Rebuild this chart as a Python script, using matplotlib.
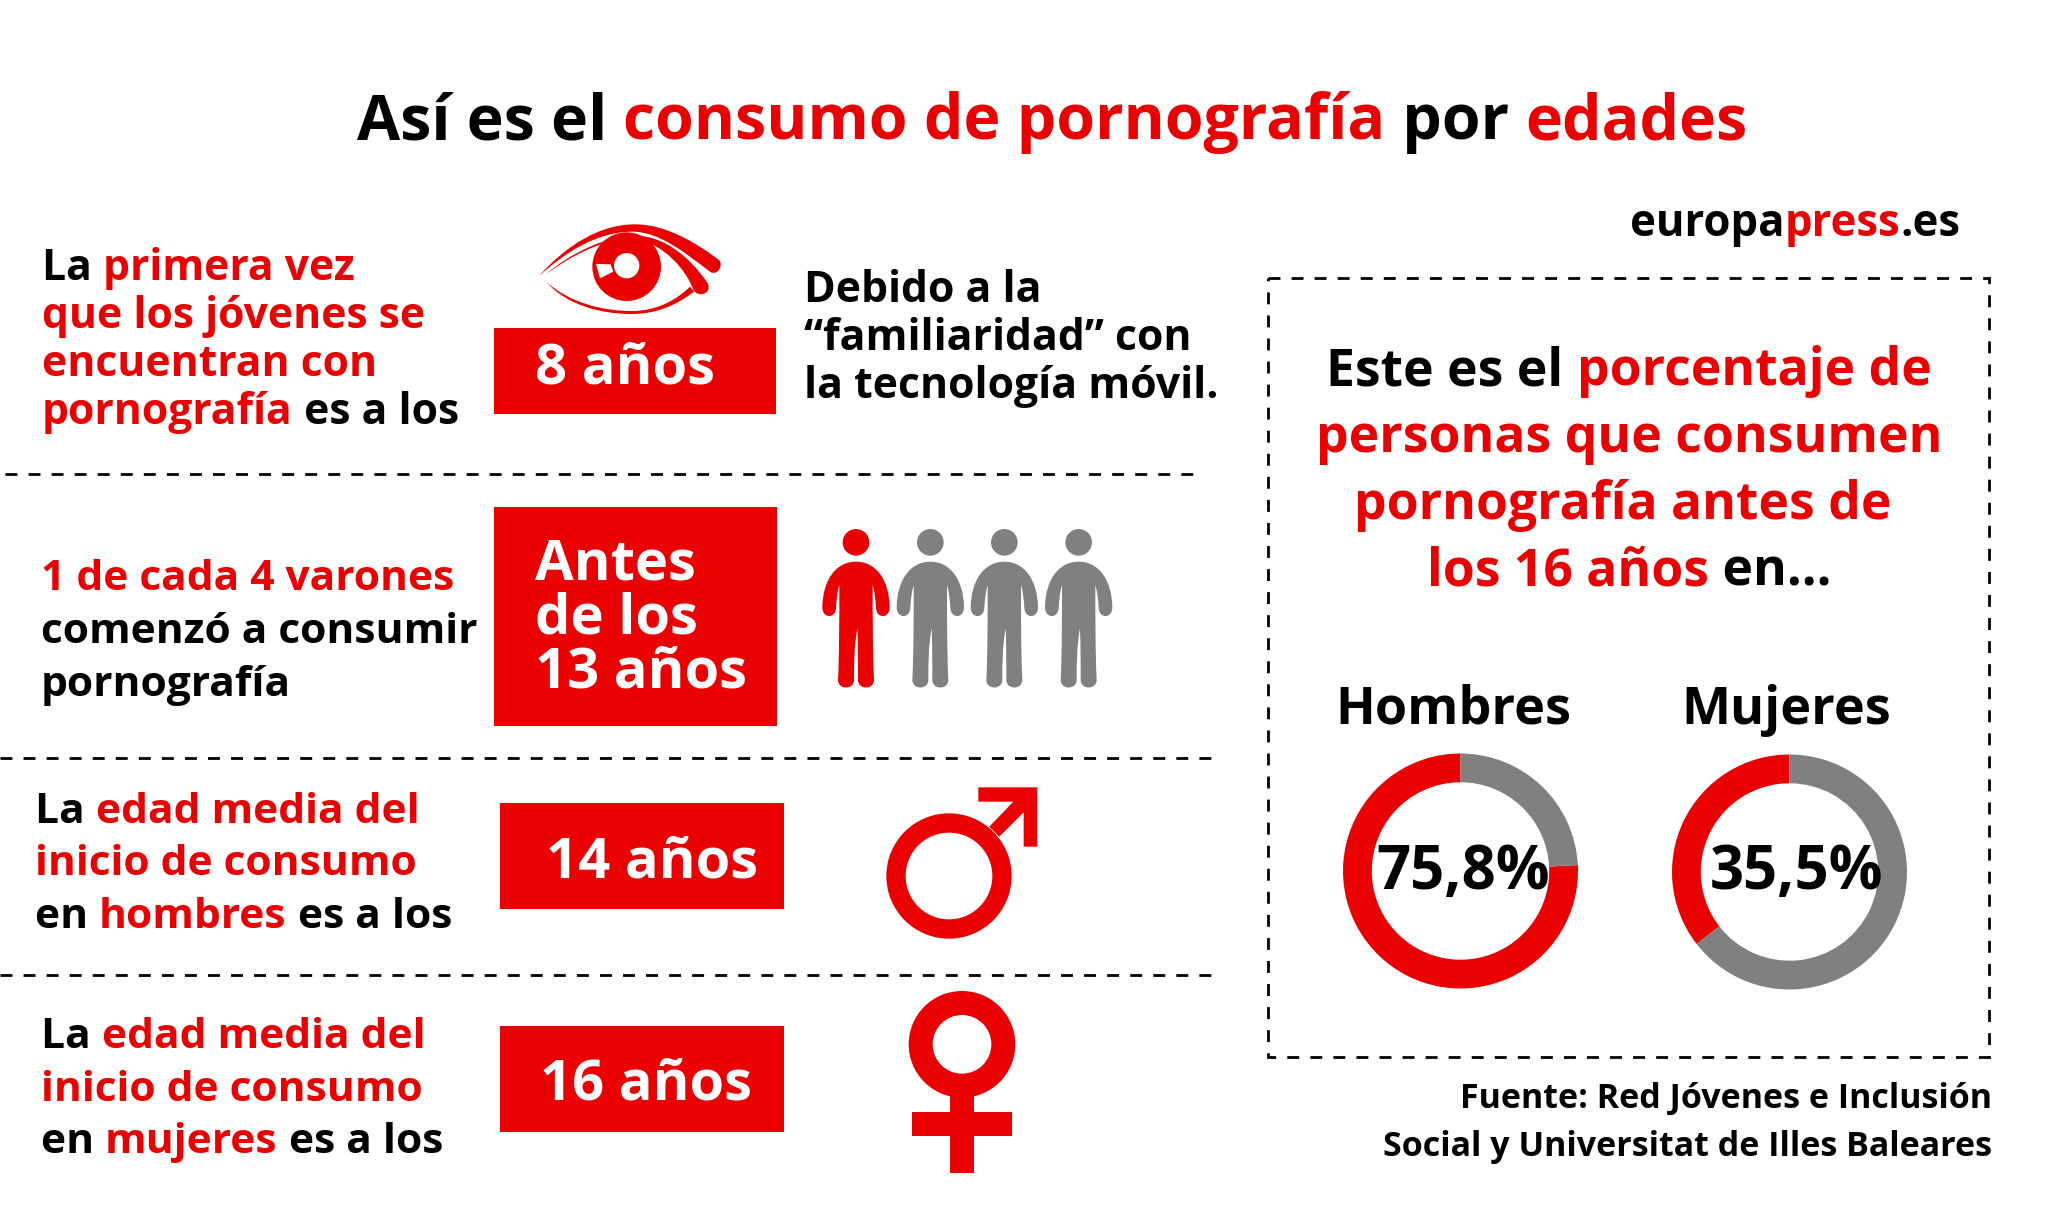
import matplotlib
matplotlib.use('Agg')
import matplotlib.pyplot as plt
from matplotlib.patches import Rectangle, Circle, Annulus, Polygon, PathPatch
from matplotlib.path import Path

# === Data === #
RED = '#EA0000'
GREY = '#808080'
BLACK = '#000000'

title_parts = [('Así es el ', BLACK), ('consumo de pornografía', RED), (' por ', BLACK), ('edades', RED)]

row1_lines = [[('La ', BLACK), ('primera vez', RED)],
              [('que los jóvenes se', RED)],
              [('encuentran con', RED)],
              [('pornografía', RED), (' es a los', BLACK)]]
row1_note = ['Debido a la', '“familiaridad” con', 'la tecnología móvil.']
row2_lines = [[('1 de cada 4 varones', RED)],
              [('comenzó a consumir', BLACK)],
              [('pornografía', BLACK)]]
row3_lines = [[('La ', BLACK), ('edad media del', RED)],
              [('inicio de consumo', RED)],
              [('en ', BLACK), ('hombres', RED), (' es a los', BLACK)]]
row4_lines = [[('La ', BLACK), ('edad media del', RED)],
              [('inicio de consumo', RED)],
              [('en ', BLACK), ('mujeres', RED), (' es a los', BLACK)]]

brand_parts = [('europa', BLACK), ('press', RED), ('.es', BLACK)]
panel_lines = [[('Este es el ', BLACK), ('porcentaje de', RED)],
               [('personas que consumen', RED)],
               [('pornografía antes de', RED)],
               [('los 16 años', RED), (' en...', BLACK)]]
source_lines = ['Fuente: Red Jóvenes e Inclusión',
                'Social y Universitat de Illes Baleares']

donut_names = ['Hombres', 'Mujeres']
donut_values = [75.8, 35.5]
donut_labels = ['75,8%', '35,5%']

plt.rcParams['font.family'] = ['Open Sans', 'DejaVu Sans']
plt.rcParams['font.weight'] = 'bold'

fig = plt.figure(figsize=(20.48, 12.24), dpi=100)
ax = fig.add_axes([0, 0, 1, 1])
ax.set_xlim(0, 2048)
ax.set_ylim(1224, 0)
ax.axis('off')
renderer = fig.canvas.get_renderer()


def text_width(s, size):
    # the bar keeps trailing spaces in the measure
    t = ax.text(0, 0, s + '|', fontsize=size)
    w = t.get_window_extent(renderer).width
    t.set_text('|')
    w -= t.get_window_extent(renderer).width
    t.remove()
    return w


def rich_line(x, y, parts, size, align='left'):
    full = ''.join(p[0] for p in parts)
    if align == 'center':
        x -= text_width(full, size) / 2
    prefix = ''
    for s, color in parts:
        ax.text(x + text_width(prefix, size), y, s, color=color, fontsize=size, va='baseline')
        prefix += s


def text_block(x, baselines, lines, size):
    for y, parts in zip(baselines, lines):
        rich_line(x, y, parts, size)


def red_box(x0, y0, x1, y1):
    ax.add_patch(Rectangle((x0, y0), x1 - x0, y1 - y0, fc=RED, ec='none'))


def curve_patch(points, x0, y0, scale, color):
    # points: start then cubic segments, in crop coordinates
    verts = [(x0 + u / scale, y0 + v / scale) for u, v in points]
    codes = [Path.MOVETO] + [Path.CURVE4] * (len(verts) - 1)
    ax.add_patch(PathPatch(Path(verts, codes), fc=color, ec='none'))


def draw_eye():
    x0, y0, k = 520, 215, 3
    # upper brow
    curve_patch([(58, 182), (140, 90), (240, 28), (345, 28),
                 (440, 28), (530, 85), (597, 135),
                 (612, 150), (592, 185), (570, 170),
                 (490, 110), (420, 52), (340, 50),
                 (230, 50), (140, 110), (58, 182)], x0, y0, k, RED)
    # lid
    curve_patch([(78, 178), (150, 115), (260, 62), (345, 62),
                 (430, 62), (510, 125), (563, 205),
                 (578, 235), (535, 250), (520, 225),
                 (500, 165), (430, 85), (345, 72),
                 (250, 68), (150, 125), (78, 178)], x0, y0, k, RED)
    # lower lid
    curve_patch([(78, 200), (150, 265), (250, 288), (335, 288),
                 (410, 288), (470, 255), (510, 215),
                 (515, 220), (518, 225), (522, 230),
                 (470, 270), (410, 297), (335, 297),
                 (240, 297), (140, 270), (78, 200)], x0, y0, k, RED)
    ax.add_patch(Circle((x0 + 320 / k, y0 + 155 / k), 103 / k, fc=RED, ec='none'))
    ax.add_patch(Circle((x0 + 320 / k, y0 + 152 / k), 38 / k, fc='white', ec='none'))
    notch = [(228, 147), (272, 148), (280, 170), (240, 190)]
    ax.add_patch(Polygon([(x0 + u / k, y0 + v / k) for u, v in notch], fc='white', ec='none'))


def draw_person(cu, color):
    x0, y0, k = 815, 520, 3
    ax.add_patch(Circle((x0 + cu / k, y0 + 67 / k), 40 / k, fc=color, ec='none'))
    half = [(0, 125), (60, 125), (100, 180), (101, 262),
            (101, 297), (60, 297), (60, 262),
            (58, 235), (56, 215), (50, 195),
            (50, 290), (50, 400), (54, 480),
            (54, 510), (6, 510), (6, 480),
            (6, 430), (6, 380), (4, 325)]
    right = [(cu + u, v) for u, v in half]
    left = [(cu - u, v) for u, v in reversed(half)]
    pts = right + left[1:]
    verts = [(x0 + u / k, y0 + v / k) for u, v in pts]
    codes = [Path.MOVETO] + [Path.CURVE4] * (len(verts) - 1)
    ax.add_patch(PathPatch(Path(verts, codes), fc=color, ec='none'))


def draw_male():
    x0, y0, k = 870, 780, 3
    ax.add_patch(Annulus((x0 + 237 / k, y0 + 288 / k), 188 / k, 58 / k, fc=RED, ec='none'))
    arrow = [(325, 22), (502, 22), (502, 200), (461, 200), (461, 97),
             (388, 170), (358, 140), (430, 65), (325, 65)]
    ax.add_patch(Polygon([(x0 + u / k, y0 + v / k) for u, v in arrow], fc=RED, ec='none'))


def draw_female():
    x0, y0, k = 870, 780, 3
    ax.add_patch(Annulus((x0 + 276 / k, y0 + 793 / k), 160 / k, 72 / k, fc=RED, ec='none'))
    ax.add_patch(Rectangle((x0 + 240 / k, y0 + 930 / k), 72 / k, 248 / k, fc=RED, ec='none'))
    ax.add_patch(Rectangle((x0 + 125 / k, y0 + 995 / k), 302 / k, 73 / k, fc=RED, ec='none'))


def draw_donut(cx, cy, r, value):
    rect = [(cx - r) / 2048, 1 - (cy + r) / 1224, 2 * r / 2048, 2 * r / 1224]
    a = fig.add_axes(rect)
    a.pie([value, 100 - value], colors=[RED, GREY], startangle=90, radius=1,
          wedgeprops={'width': 0.245, 'linewidth': 0})
    a.set_xlim(-1, 1)
    a.set_ylim(-1, 1)
    a.set_aspect('equal')
    a.patch.set_alpha(0)


# Title
rich_line(1052, 139.5, title_parts, 45.1, align='center')
rich_line(1630, 236, brand_parts, 31.4)

# Row 1
text_block(42, [280.5, 328.5, 376, 424], row1_lines, 30.7)
red_box(494, 328, 776, 414)
ax.text(535, 384, '8 años', color='white', fontsize=40.4)
draw_eye()
text_block(804, [302.5, 350.5, 398], [[(s, BLACK)] for s in row1_note], 30.8)

# Row 2
text_block(41, [590, 643, 696], row2_lines, 30.6)
red_box(494, 507, 777, 726)
for y, s in zip([579, 633, 688], ['Antes', 'de los', '13 años']):
    ax.text(535, y, s, color='white', fontsize=40.4)
for cu, color in zip([123, 346, 568, 791], [RED, GREY, GREY, GREY]):
    draw_person(cu, color)

# Row 3
text_block(35, [823, 875, 928], row3_lines, 30.6)
red_box(500, 803, 784, 909)
ax.text(546, 877, '14 años', color='white', fontsize=40.4)
draw_male()

# Row 4
text_block(41, [1048, 1101, 1153], row4_lines, 30.6)
red_box(500, 1026, 784, 1132)
ax.text(540, 1100, '16 años', color='white', fontsize=40.4)
draw_female()

# Separators
dash = (0, (4.3, 4))
for y, x0, x1 in zip([474, 758, 975], [5, 0, 0], [1198, 1211, 1222]):
    ax.plot([x0, x1], [y, y], color=BLACK, lw=2, linestyle=dash)

# Right panel
ax.add_patch(Rectangle((1268, 278), 721, 779, fc='none', ec=BLACK, lw=2, linestyle=dash))
for y, cx, parts in zip([385, 452, 519, 586], [1629, 1629, 1623, 1629], panel_lines):
    rich_line(cx, y, parts, 37.2, align='center')

for name, value, cx, cy, nx in zip(donut_names, donut_values, [1460.5, 1789.5], [871, 872], [1453, 1786]):
    ax.text(nx, 724, name, color=BLACK, fontsize=37.5, ha='center', va='baseline')
    draw_donut(cx, cy, 117.5, value)
for label, cx in zip(donut_labels, [1463, 1796]):
    fig.text(cx / 2048, 1 - 889 / 1224, label, color=BLACK, fontsize=43, ha='center', va='baseline', zorder=10)

# Source
for y, s in zip([1107.5, 1156.5], source_lines):
    ax.text(1992, y, s, color=BLACK, fontsize=24.5, ha='right', va='baseline')

fig.savefig('out.png', dpi=100)
